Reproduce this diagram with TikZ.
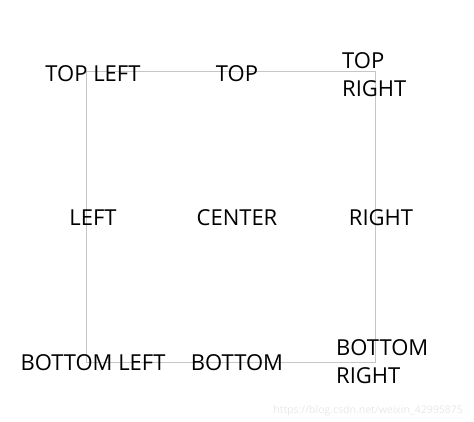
\documentclass[tikz,border=0pt]{standalone}
\usepackage{fontspec}
\setmainfont{Open Sans}
\usetikzlibrary{positioning}

\begin{document}
\begin{tikzpicture}[x=1pt,y=-1pt,
  lbl/.style={inner sep=0pt, font=\fontsize{22}{28}\selectfont},
  lbltwo/.style={lbl, align=left, anchor=west}]

\useasboundingbox (0,0) rectangle (474,422);

% Draw the box
\coordinate (A) at (86,72);
\coordinate (B) at (375,72);
\coordinate (C) at (375,362);
\coordinate (D) at (86,362);
\draw[gray!45, line width=1pt] (A) -- (B) -- (C) -- (D) -- cycle;

%label positions
\node (topleft) at (93,82) [lbl, anchor = base] {TOP LEFT};
\node (top) at (237,82) [lbl, anchor = base] {TOP};
\node (topright) at (342,74.5) [lbltwo] {TOP\\RIGHT};

\node (left) at (93,226) [lbl, anchor = base] {LEFT};
\node (center) at (237,226) [lbl, anchor = base] {CENTER};
\node (right) at (381,226) [lbl, anchor = base] {RIGHT};

\node (bottomleft) at (93,370) [lbl, anchor = base] {BOTTOM LEFT};
\node (bottom) at (237,370) [lbl, anchor = base] {BOTTOM};
\node (bottomright) at (336,361.5) [lbltwo] {BOTTOM\\RIGHT};

% watermark
\node (mark) at (463,413) [inner sep=0pt, anchor = base east, text=gray!18,
  font=\fontsize{10.5}{12}\selectfont] {https://blog.csdn.net/weixin\_42995875};

\end{tikzpicture}
\end{document}
